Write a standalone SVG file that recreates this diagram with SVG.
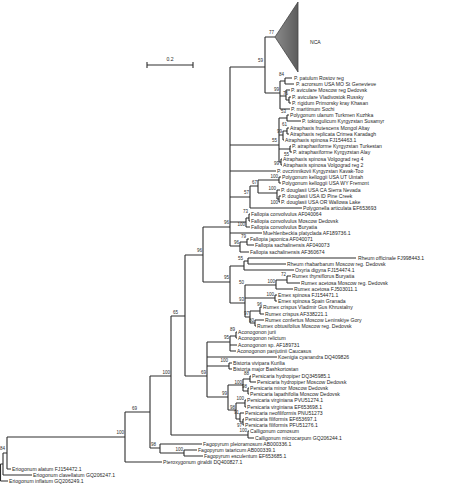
<svg xmlns="http://www.w3.org/2000/svg" width="474" height="485" viewBox="0 0 474 485">
<style>
.ln{fill:none;stroke:#2e2e2e;stroke-width:1.1}
.t{font-family:"Liberation Sans",Arial,sans-serif;font-size:5.1px;fill:#1e1e1e}
.b{font-family:"Liberation Sans",Arial,sans-serif;font-size:4.5px;fill:#2a2a2a;text-anchor:end}
</style>
<defs>
<linearGradient id="tri" x1="0" y1="0" x2="1" y2="0">
<stop offset="0" stop-color="#8a8a8a"/><stop offset="1" stop-color="#5c5c5c"/>
</linearGradient>
</defs>
<rect width="474" height="485" fill="#fff"/>
<g id="scale">
<path class="ln" d="M147 65H193M147 62V68M193 62V68"/>
<text class="t" x="170" y="61" text-anchor="middle">0.2</text>
</g>
<g id="nca">
<polygon points="275,37 298,2 298,72" fill="url(#tri)" stroke="#444" stroke-width="0.8"/>
<text class="t" x="310" y="44">NCA</text>
</g>
<g id="connectors">
<path class="ln" d="M265 37H275M265 37V93M230 67H265M265 93H280M280 81V109M280 81H285M285 78V84M285 78H292M285 84H294M280 96H286M286 90V100M286 90H290M286 100H289M289 97V103M289 97H291M289 103H291M280 109H290
M230 145H279M279 118V162M279 118H287M287 115V121M287 115H289M287 121H301M279 135H283M283 131V140M283 131H287M287 128V134M287 128H289M287 134H289M283 140H284M279 149H290M290 146V152M290 146H291M290 152H292M279 162H281M281 159V165M281 159H282M281 165H282
M230 171H276
M230 197H250M250 186V208M250 186H258M258 180V193M258 180H279M279 177V183M279 177H281M279 183H281M258 193H277M277 190V199M277 190H280M277 199H279M279 196V202M279 196H281M279 202H280M250 208H302
M230 222H246M246 218V227M246 218H249M249 214V221M249 214H250M249 221H250M246 227H250M230 233H262M230 246H240M240 242V252M240 242H247M247 239V245M247 239H249M247 245H254M240 252H249
M230 67V246M203 227H230M203 227V282M203 282H230M185 255H203M185 255V376M171 316H185M185 376H207M171 316V435M150 376H171M171 435H248M150 376V448M125 412H150M150 448H160M125 412V462M125 462H162M7 437H125
M160 444V453M160 444H202M160 453H184M184 450V456M184 450H197M184 456H203
M7 437V469M7 469H11M3 453H7M3 453V475M3 475H32M0.5 464H3M0.5 464V481M0.5 481H8
M230 266V303M230 266H244M244 261V270M244 261H248M248 258V264M248 258H356M248 264H286M244 270H294M230 303H245M245 285V317M245 285H276M276 280V289M276 280H287M287 276V283M287 276H291M287 283H300M276 289H293M245 298H275M275 295V301M275 295H277M275 301H277M245 317H250M250 311V323M250 311H260M260 307V314M260 307H262M260 314H264M250 323H255M255 320V326M255 320H264M255 326H256
M207 342V397M207 342H230M230 336V351M230 336H236M236 332V338M236 332H237M236 338H237M230 345H237M230 351H236M207 357H277M207 366H229M229 363V369M229 363H232M229 369H232M207 397H228M228 385V410M228 385H243M243 379V391M243 379H250M250 376V382M250 376H251M250 382H256M243 391H248M248 388V394M248 388H249M248 394H249M228 410H236M236 403V419M236 403H245M245 400V407M245 400H246M245 407H246M236 419H240M240 413V422M240 413H244M240 422H243M243 419V425M243 419H244M243 425H244
M248 431V438M248 431H249M248 438H254"/>
</g>
<g id="support">
<text class="b" x="274" y="34">77</text>
<text class="b" x="263" y="62">59</text>
<text class="b" x="279" y="91">99</text>
<text class="b" x="284" y="76">84</text>
<text class="b" x="288" y="95">76</text>
<text class="b" x="277" y="142">55</text>
<text class="b" x="286" y="113">53</text>
<text class="b" x="287" y="126">61</text>
<text class="b" x="282" y="133">99</text>
<text class="b" x="289" y="156">55</text>
<text class="b" x="279" y="164.5">99</text>
<text class="b" x="249" y="194">57</text>
<text class="b" x="257" y="184">67</text>
<text class="b" x="278" y="178">100</text>
<text class="b" x="276" y="190">100</text>
<text class="b" x="278" y="204">100</text>
<text class="b" x="248" y="213">73</text>
<text class="b" x="245" y="226">100</text>
<text class="b" x="239" y="244">96</text>
<text class="b" x="246" y="238">79</text>
<text class="b" x="229" y="224">96</text>
<text class="b" x="202" y="252">96</text>
<text class="b" x="229" y="279">95</text>
<text class="b" x="243" y="260">55</text>
<text class="b" x="244" y="301">93</text>
<text class="b" x="244" y="284">50</text>
<text class="b" x="275" y="283">100</text>
<text class="b" x="286" y="276">72</text>
<text class="b" x="274" y="296">100</text>
<text class="b" x="249" y="315">97</text>
<text class="b" x="262" y="305.5">96</text>
<text class="b" x="254" y="322">80</text>
<text class="b" x="178" y="314">65</text>
<text class="b" x="206" y="374">69</text>
<text class="b" x="170" y="374">100</text>
<text class="b" x="137" y="410">69</text>
<text class="b" x="156" y="446">98</text>
<text class="b" x="183" y="451">100</text>
<text class="b" x="124" y="434">100</text>
<text class="b" x="0" y="450" style="text-anchor:start">84</text>
<text class="b" x="235" y="331">89</text>
<text class="b" x="229" y="339">95</text>
<text class="b" x="228" y="362">100</text>
<text class="b" x="227" y="395">99</text>
<text class="b" x="242" y="384">100</text>
<text class="b" x="249" y="375">88</text>
<text class="b" x="247" y="388">98</text>
<text class="b" x="235" y="409">98</text>
<text class="b" x="244" y="400">100</text>
<text class="b" x="239" y="414">91</text>
<text class="b" x="242" y="427">97</text>
<text class="b" x="247" y="432">100</text>
</g>
<g id="taxa">
<g id="n01"><text class="t" x="294" y="80">P. patulum Rostov reg</text></g>
<g id="n02"><text class="t" x="296" y="86">P. acrorsum USA MO St Genevieve</text></g>
<g id="n03"><text class="t" x="291" y="92">P. aviculare Moscow reg Dedovsk</text></g>
<g id="n04"><text class="t" x="292" y="98.5">P. aviculare Vladivostok Russky</text></g>
<g id="n05"><text class="t" x="292" y="104.5">P. rigidum Primorsky kray Khasan</text></g>
<g id="n06"><text class="t" x="291" y="111">P. maritimum Sochi</text></g>
<g id="n07"><text class="t" x="290" y="117">Polygonum ulanum Turkmen Kuzhka</text></g>
<g id="n08"><text class="t" x="302" y="123">P. toktogulicum Kyrgyzstan Susamyr</text></g>
<g id="n09"><text class="t" x="290" y="129.5">Atraphaxis frutescens Mongol Altay</text></g>
<g id="n10"><text class="t" x="290" y="135.5">Atraphaxis replicata Crimea Karadagh</text></g>
<g id="n11"><text class="t" x="285" y="142">Atraphaxis spinosa FJ154463.1</text></g>
<g id="n12"><text class="t" x="292" y="148">P. atraphaxiforme Kyrgyzstan Turkestan</text></g>
<g id="n13"><text class="t" x="293" y="154">P. atraphaxiforme Kyrgyzstan Alay</text></g>
<g id="n14"><text class="t" x="283" y="160.5">Atraphaxis spinosa Volgograd reg 4</text></g>
<g id="n15"><text class="t" x="283" y="166.5">Atraphaxis spinosa Volgograd reg 2</text></g>
<g id="n16"><text class="t" x="277" y="173">P. ovczinnikovii Kyrgyzstan Kavak-Too</text></g>
<g id="n17"><text class="t" x="282" y="179">Polygonum kelloggii USA UT Uintah</text></g>
<g id="n18"><text class="t" x="282" y="185">Polygonum kelloggii USA WY Fremont</text></g>
<g id="n19"><text class="t" x="281" y="191.5">P. douglasii USA CA Sierra Nevada</text></g>
<g id="n20"><text class="t" x="282" y="197.5">P. douglasii USA ID Pine Creek</text></g>
<g id="n21"><text class="t" x="281" y="204">P. douglasii USA OR Wallowa Lake</text></g>
<g id="n22"><text class="t" x="303" y="210">Polygonella articulata EF653693</text></g>
<g id="n23"><text class="t" x="251" y="216">Fallopia convolvulus AF040064</text></g>
<g id="n24"><text class="t" x="251" y="222.5">Fallopia convolvulus Moscow Dedovsk</text></g>
<g id="n25"><text class="t" x="251" y="228.5">Fallopia convolvulus Buryatia</text></g>
<g id="n26"><text class="t" x="263" y="235">Muehlenbeckia platyclada AF189736.1</text></g>
<g id="n27"><text class="t" x="250" y="241">Fallopia japonica AF040071</text></g>
<g id="n28"><text class="t" x="255" y="247">Fallopia sachalinensis AF040073</text></g>
<g id="n29"><text class="t" x="250" y="253.5">Fallopia sachalinensis AF360674</text></g>
<g id="n30"><text class="t" x="358" y="260">Rheum officinale FJ998443.1</text></g>
<g id="n31"><text class="t" x="287" y="266">Rheum rhabarbarum Moscow reg. Dedovsk</text></g>
<g id="n32"><text class="t" x="295" y="272">Oxyria digyna FJ154474.1</text></g>
<g id="n33"><text class="t" x="292" y="278">Rumex thyrsiflorus Buryatia</text></g>
<g id="n34"><text class="t" x="301" y="284.5">Rumex acetosa Moscow reg. Dedovsk</text></g>
<g id="n35"><text class="t" x="294" y="290.5">Rumex acetosa FJ503011.1</text></g>
<g id="n36"><text class="t" x="278" y="297">Emex spinosa FJ154471.1</text></g>
<g id="n37"><text class="t" x="278" y="303">Emex spinosa Spain Granada</text></g>
<g id="n38"><text class="t" x="263" y="309">Rumex crispus Vladimir Gus Khrustalny</text></g>
<g id="n39"><text class="t" x="265" y="315.5">Rumex crispus AF338221.1</text></g>
<g id="n40"><text class="t" x="265" y="321.5">Rumex confertus Moscow Leninskiye Gory</text></g>
<g id="n41"><text class="t" x="257" y="328">Rumex obtusifolius Moscow reg. Dedovsk</text></g>
<g id="n42"><text class="t" x="238" y="334">Aconogonon jurii</text></g>
<g id="n43"><text class="t" x="238" y="340">Aconogonon relictum</text></g>
<g id="n44"><text class="t" x="238" y="346.5">Aconogonon sp. AF189731</text></g>
<g id="n45"><text class="t" x="237" y="352.5">Aconogonon panjutinii Caucasus</text></g>
<g id="n46"><text class="t" x="278" y="359">Koenigia cyanandra DQ409826</text></g>
<g id="n47"><text class="t" x="233" y="365">Bistorta vivipara Kurilia</text></g>
<g id="n48"><text class="t" x="233" y="371">Bistorta major Bashkortostan</text></g>
<g id="n49"><text class="t" x="252" y="377.5">Persicaria hydropiper DQ345985.1</text></g>
<g id="n50"><text class="t" x="257" y="383.5">Persicaria hydropiper Moscow Dedovsk</text></g>
<g id="n51"><text class="t" x="250" y="390">Persicaria minor Moscow Dedovsk</text></g>
<g id="n52"><text class="t" x="250" y="396">Persicaria lapathifolia Moscow Dedovsk</text></g>
<g id="n53"><text class="t" x="247" y="402">Persicaria virginiana PVU51274.1</text></g>
<g id="n54"><text class="t" x="247" y="408.5">Persicaria virginiana EF653698.1</text></g>
<g id="n55"><text class="t" x="245" y="414.5">Persicaria neofiliformis PNU51273</text></g>
<g id="n56"><text class="t" x="245" y="421">Persicaria filiformis EF653697.1</text></g>
<g id="n57"><text class="t" x="245" y="427">Persicaria filiformis PFU51276.1</text></g>
<g id="n58"><text class="t" x="250" y="433">Calligonum comosum</text></g>
<g id="n59"><text class="t" x="255" y="439.5">Calligonum microcarpum GQ206244.1</text></g>
<g id="n60"><text class="t" x="203" y="445.5">Fagopyrum pleioramosum AB000336.1</text></g>
<g id="n61"><text class="t" x="198" y="451.5">Fagopyrum tataricum AB000339.1</text></g>
<g id="n62"><text class="t" x="204" y="458">Fagopyrum esculentum EF653685.1</text></g>
<g id="n63"><text class="t" x="163" y="464">Pteroxygonum giraldii DQ400827.1</text></g>
<g id="n64"><text class="t" x="12" y="470.5">Eriogonum alatum FJ154472.1</text></g>
<g id="n65"><text class="t" x="33" y="476.5">Eriogonum clavellatum GQ206247.1</text></g>
<g id="n66"><text class="t" x="9" y="483">Eriogonum inflatum GQ206249.1</text></g>
</g>
</svg>
